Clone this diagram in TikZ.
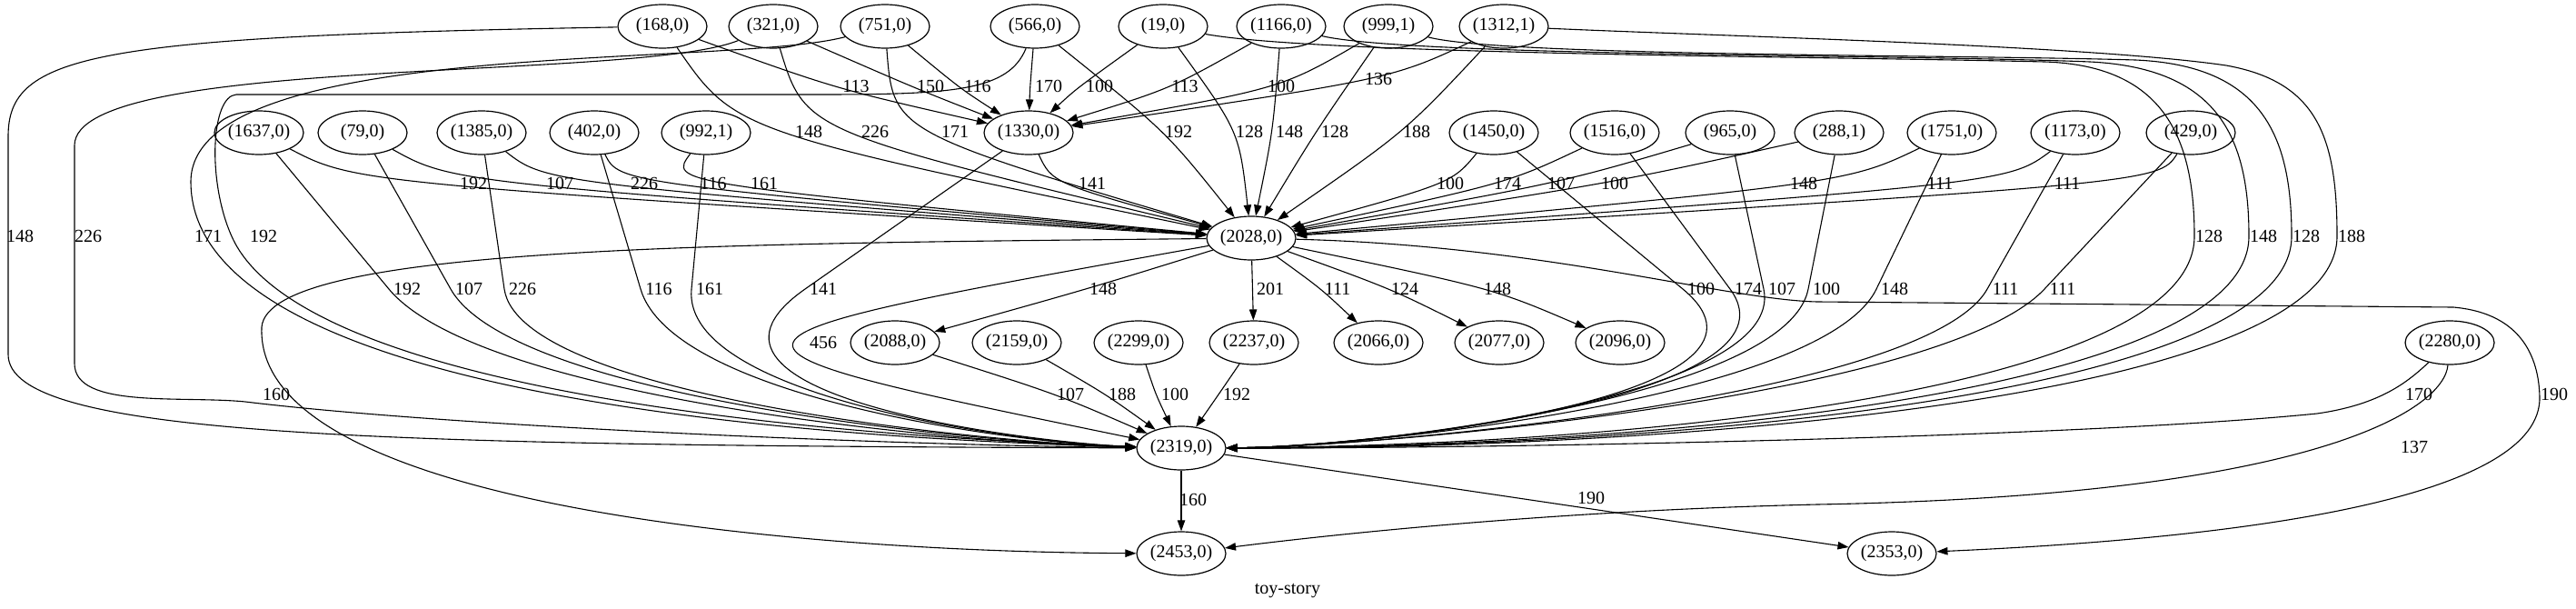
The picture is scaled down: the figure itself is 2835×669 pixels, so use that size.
\documentclass[tikz,border=0pt]{standalone}
\usepackage{fontspec}
\setmainfont{Liberation Serif}
\usetikzlibrary{shapes.geometric,arrows.meta,calc}
\tikzset{
  nd/.style={ellipse,draw,line width=0.6pt,minimum width=49pt,minimum height=24pt,inner sep=0pt,font=\fontsize{10}{12}\selectfont},
  e/.style={draw,line width=0.55pt,-{Triangle[length=6pt,width=4.2pt]}},
  lbl/.style={inner sep=0pt,font=\fontsize{10}{12}\selectfont}
}
% edge through point left of label at (lx,ly)
\newcommand\ed[5]{%
  \draw[e] (#1) .. controls ($1.33333*({#3-20},#4)-0.16667*(#1)-0.16667*(#2)$) .. (#2);
  \node[lbl] (l#1#2) at (#3,#4) {#5};}
% edge: straight to point left of label, then curving into target
\newcommand\edd[7]{%
  \draw[e] (#1) -- ({#3-20},#4) .. controls ($({#3-20},#4)!-0.7!(#1)$) and (#6,#7) .. (#2);
  \node[lbl] (l#1#2) at (#3,#4) {#5};}
\begin{document}
\begin{tikzpicture}[x=0.5pt,y=-0.5pt]
\useasboundingbox (0,0) rectangle (2835,669);
% row 1
\node[nd] (n168) at (729,29) {(168,0)};
\node[nd] (n321) at (851,29) {(321,0)};
\node[nd] (n751) at (974,29) {(751,0)};
\node[nd] (n566) at (1139,29) {(566,0)};
\node[nd] (n19) at (1280,29) {(19,0)};
\node[nd] (n1166) at (1410,29) {(1166,0)};
\node[nd] (n999) at (1528,29) {(999,1)};
\node[nd] (n1312) at (1655,29) {(1312,1)};
% row 2
\node[nd] (n1637) at (285,146) {(1637,0)};
\node[nd] (n79) at (399,146) {(79,0)};
\node[nd] (n1385) at (530,146) {(1385,0)};
\node[nd] (n402) at (654,146) {(402,0)};
\node[nd] (n992) at (777,146) {(992,1)};
\node[nd] (n1330) at (1132,146) {(1330,0)};
\node[nd] (n1450) at (1644,146) {(1450,0)};
\node[nd] (n1516) at (1777,146) {(1516,0)};
\node[nd] (n965) at (1904,146) {(965,0)};
\node[nd] (n288) at (2024,146) {(288,1)};
\node[nd] (n1751) at (2148,146) {(1751,0)};
\node[nd] (n1173) at (2284,146) {(1173,0)};
\node[nd] (n429) at (2411,146) {(429,0)};
\node[nd] (n2028) at (1377,262) {(2028,0)};
% row 3
\node[nd] (n2088) at (985,377) {(2088,0)};
\node[nd] (n2159) at (1119,377) {(2159,0)};
\node[nd] (n2299) at (1253,377) {(2299,0)};
\node[nd] (n2237) at (1380,377) {(2237,0)};
\node[nd] (n2066) at (1517,377) {(2066,0)};
\node[nd] (n2077) at (1650,377) {(2077,0)};
\node[nd] (n2096) at (1783,377) {(2096,0)};
\node[nd] (n2280) at (2696,377) {(2280,0)};
\node[nd] (n2319) at (1300,493) {(2319,0)};
\node[nd] (n2453) at (1300,609) {(2453,0)};
\node[nd] (n2353) at (2082,609) {(2353,0)};
\node[lbl] (title) at (1417,650) {toy-story};
% to 1330
\ed{n168}{n1330}{942}{95}{113}
\ed{n321}{n1330}{1024}{95}{150}
\ed{n751}{n1330}{1076}{95}{116}
\ed{n566}{n1330}{1154}{95}{170}
\ed{n19}{n1330}{1210}{95}{100}
\ed{n1166}{n1330}{1304}{95}{113}
\ed{n999}{n1330}{1410}{95}{100}
\ed{n1312}{n1330}{1517}{87}{136}
% row1 to 2028
\ed{n168}{n2028}{890}{145}{148}
\ed{n321}{n2028}{963}{145}{226}
\ed{n751}{n2028}{1051}{145}{171}
\ed{n566}{n2028}{1297}{145}{192}
\ed{n19}{n2028}{1375}{145}{128}
\ed{n1166}{n2028}{1419}{145}{148}
\ed{n999}{n2028}{1469}{145}{128}
\ed{n1312}{n2028}{1559}{145}{188}
% row2 to 2028
\ed{n1637}{n2028}{521}{202}{192}
\ed{n79}{n2028}{616}{202}{107}
\ed{n1385}{n2028}{709}{202}{226}
\ed{n402}{n2028}{785}{202}{116}
\ed{n992}{n2028}{841}{202}{161}
\ed{n1330}{n2028}{1202}{202}{141}
\ed{n1450}{n2028}{1596}{202}{100}
\ed{n1516}{n2028}{1659}{202}{174}
\ed{n965}{n2028}{1718}{202}{107}
\ed{n288}{n2028}{1777}{202}{100}
\ed{n1751}{n2028}{1985}{202}{148}
\ed{n1173}{n2028}{2135}{202}{111}
\ed{n429}{n2028}{2275}{202}{111}
% row2 to 2319
\edd{n1637}{n2319}{448}{318}{192}{1050}{488}
\edd{n79}{n2319}{516}{318}{107}{1080}{488}
\edd{n1385}{n2319}{575}{318}{226}{1100}{488}
\edd{n402}{n2319}{725}{318}{116}{1120}{488}
\edd{n992}{n2319}{781}{318}{161}{1130}{488}
\edd{n1330}{n2319}{906}{318}{141}{1150}{488}
\edd{n1450}{n2319}{1872}{318}{100}{1500}{492}
\edd{n1516}{n2319}{1924}{318}{174}{1500}{492}
\edd{n965}{n2319}{1961}{318}{107}{1500}{492}
\edd{n288}{n2319}{2010}{318}{100}{1500}{492}
\edd{n1751}{n2319}{2085}{318}{148}{1500}{492}
\edd{n1173}{n2319}{2207}{318}{111}{1500}{492}
\edd{n429}{n2319}{2270}{318}{111}{1500}{492}
% 2028 outgoing
\ed{n2028}{n2088}{1214}{318}{148}
\draw[e] (n2028) -- (n2237); \node[lbl] (l2028b) at (1398,318) {201};
\ed{n2028}{n2066}{1472}{318}{111}
\ed{n2028}{n2077}{1546}{318}{124}
\ed{n2028}{n2096}{1648}{318}{148}
\ed{n2028}{n2319}{906}{377}{456}
% row3 to 2319
\ed{n2088}{n2319}{1178}{434}{107}
\ed{n2159}{n2319}{1235}{434}{188}
\ed{n2299}{n2319}{1293}{434}{100}
\ed{n2237}{n2319}{1361}{434}{192}
\draw[e] (n2319) -- (n2453); \node[lbl] (l2319a) at (1313,550) {160};
\draw[e] (n2319) -- (n2353); \node[lbl] (l2319b) at (1751,548) {190};
% long left routes
\draw[e] (n168) .. controls (100,40) and (9,60) .. (9,150) -- (9,390) .. controls (9,480) and (400,490) .. (n2319);
\node[lbl] (l168b) at (22,260) {148};
\draw[e] (n321) .. controls (700,90) and (82,60) .. (82,160) -- (82,400) .. controls (82,450) and (200,435) .. (270,442) .. controls (500,470) and (1000,490) .. (n2319);
\node[lbl] (l321b) at (97,260) {226};
\draw[e] (n751) .. controls (800,75) and (210,40) .. (210,200) .. controls (210,420) and (800,480) .. (n2319);
\node[lbl] (l751b) at (229,260) {171};
\draw[e] (n566) .. controls (1110,100) and (1050,104) .. (900,104) -- (260,104) .. controls (232,106) and (228,200) .. (255,260) .. controls (330,430) and (900,480) .. (n2319);
\node[lbl] (l566b) at (290,260) {192};
% long right routes
\draw[e] (n19) .. controls (1450,60) and (2000,62) .. (2250,68) .. controls (2380,72) and (2415,150) .. (2415,260) .. controls (2415,430) and (1800,490) .. (n2319);
\node[lbl] (l19b) at (2431,260) {128};
\draw[e] (n1166) .. controls (1550,62) and (2100,60) .. (2300,68) .. controls (2440,75) and (2475,150) .. (2475,260) .. controls (2475,435) and (1800,492) .. (n2319);
\node[lbl] (l1166b) at (2491,260) {148};
\draw[e] (n999) .. controls (1650,62) and (2150,60) .. (2350,66) .. controls (2490,72) and (2522,150) .. (2522,260) .. controls (2522,440) and (1800,493) .. (n2319);
\node[lbl] (l999b) at (2538,260) {128};
\draw[e] (n1312) .. controls (1900,40) and (2300,50) .. (2450,72) .. controls (2550,90) and (2572,150) .. (2572,260) .. controls (2572,445) and (1800,494) .. (n2319);
\node[lbl] (l1312b) at (2588,260) {188};
% 2028 long
\draw[e] (n2028) .. controls (1700,270) and (1900,330) .. (2000,332) -- (2700,338) .. controls (2780,345) and (2795,400) .. (2795,440) .. controls (2790,560) and (2400,595) .. (n2353);
\node[lbl] (l2028c) at (2811,434) {190};
\draw[e] (n2028) .. controls (800,268) and (295,270) .. (288,360) .. controls (280,560) and (900,607) .. (n2453);
\node[lbl] (l2028d) at (304,434) {160};
% 2280
\draw[e] (n2280) .. controls (2650,420) and (2620,445) .. (2550,455) .. controls (2300,480) and (1700,493) .. (n2319);
\node[lbl] (l2280a) at (2662,434) {170};
\draw[e] (n2280) .. controls (2690,450) and (2550,545) .. (2000,555) .. controls (1700,562) and (1450,590) .. (n2453);
\node[lbl] (l2280b) at (2657,492) {137};
\end{tikzpicture}
\end{document}
